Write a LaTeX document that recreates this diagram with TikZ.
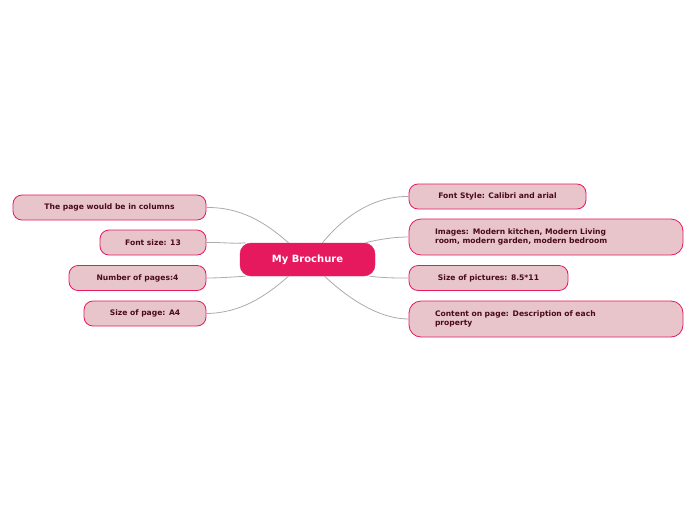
\documentclass[tikz,border=0pt]{standalone}
\usepackage{fontspec}
\setmainfont{DejaVu Sans}
\definecolor{crim}{HTML}{E6195E}
\definecolor{pinkf}{HTML}{E8C5CB}
\definecolor{txt}{HTML}{4A0A1A}
\definecolor{lnk}{HTML}{ABABAB}
\begin{document}
\begin{tikzpicture}[x=1pt,y=-1pt,
  leaf/.style={draw=crim,fill=pinkf,rounded corners=9pt,line width=0.8pt,text=txt,font=\bfseries\fontsize{7.6}{9.5}\selectfont,inner sep=0pt,minimum height=25pt},
  wide/.style={leaf,text width=222pt,inner xsep=26pt,minimum height=36pt,align=left,rounded corners=12pt},
  link/.style={draw=lnk,line width=0.8pt}]
\useasboundingbox (0,0) rectangle (696,520);
\node[draw=crim,fill=crim,rounded corners=11pt,minimum width=135pt,minimum height=33pt,text=white,font=\bfseries\fontsize{10}{12}\selectfont] (c) at (307.5,259.5) {My Brochure};
\node[leaf,minimum width=177pt] (r1) at (497.5,196.5) {Font Style: Calibri and arial};
\node[wide] (r2) at (546,237) {Images: Modern kitchen, Modern Living\\room, modern garden, modern bedroom};
\node[leaf,minimum width=159pt] (r3) at (488.5,278) {Size of pictures: 8.5*11};
\node[wide] (r4) at (546,319) {Content on page: Description of each\\property};
\node[leaf,minimum width=193pt] (l1) at (109.5,207.5) {The page would be in columns};
\node[leaf,minimum width=106pt] (l2) at (153,242.5) {Font size: 13};
\node[leaf,minimum width=137pt] (l3) at (137.5,278) {Number of pages:4};
\node[leaf,minimum width=122pt] (l4) at (145,313.5) {Size of page: A4};
\draw[link] ([xshift=15pt]c.north) .. controls (345,215) and (375,196) .. (r1.west);
\draw[link] ([xshift=58pt]c.north) .. controls (380,239) and (395,237) .. (r2.west);
\draw[link] ([xshift=62pt]c.south) .. controls (385,278) and (395,278) .. (r3.west);
\draw[link] ([xshift=17pt]c.south) .. controls (350,300) and (380,319) .. (r4.west);
\draw[link] ([xshift=-19pt]c.north) .. controls (265,222) and (240,207) .. (l1.east);
\draw[link] ([xshift=-62pt]c.north) .. controls (232,244) and (220,242) .. (l2.east);
\draw[link] ([xshift=-62pt]c.south) .. controls (232,277) and (220,278) .. (l3.east);
\draw[link] ([xshift=-19pt]c.south) .. controls (265,297) and (240,313) .. (l4.east);
\end{tikzpicture}
\end{document}
